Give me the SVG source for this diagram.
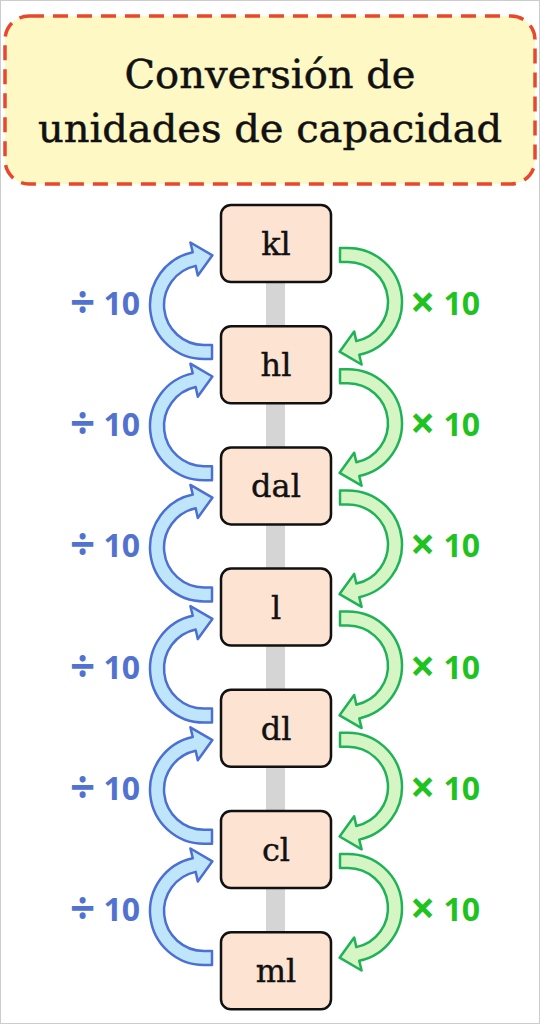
<svg xmlns="http://www.w3.org/2000/svg" xmlns:xlink="http://www.w3.org/1999/xlink" width="540" height="1024" viewBox="0 0 540 1024">
<style>
.frame{fill:#ffffff;stroke:#cccccc;stroke-width:1}
.title-box{fill:#fef8c4;stroke:#e8472e;stroke-width:3.5;stroke-dasharray:15 9}
.title{font-family:"DejaVu Serif","Liberation Serif",serif;font-size:40px;fill:#111;stroke:#111;stroke-width:0.5;text-anchor:middle}
.node rect{fill:#fde3d1;stroke:#111;stroke-width:2.5}
.node text{font-family:"DejaVu Serif","Liberation Serif",serif;font-size:32px;fill:#111;stroke:#111;stroke-width:0.4;text-anchor:middle}
.bar{fill:#d5d5d5}
.up{fill:#bfe5fb;stroke:#4b6fd3;stroke-width:2.5;stroke-linejoin:round}
.down{fill:#d5f6c4;stroke:#20b256;stroke-width:2.5;stroke-linejoin:round}
.lbl{font-family:"Open Sans","Noto Sans",sans-serif;font-weight:bold;font-size:32px}
.sym{font-size:44px}
.lup{fill:#5272d0;text-anchor:end}
.ldown{fill:#1fc31f;text-anchor:start}
</style>
<defs>
<path id="arr" d="M -64 55.5 L -72 55.5 A 54 54 0 0 1 -83.23 -51.32 L -85.6 -61 L -63.6 -48.2 L -78.2 -28 L -80.32 -37.62 A 40 40 0 0 0 -72 41.5 L -64 41.5 Z"/>
</defs>
<rect class="frame" x="0.5" y="0.5" width="539" height="1023"/>
<g id="title">
<rect class="title-box" x="5" y="16" width="530" height="168" rx="24"/>
<text class="title" x="270" y="88">Conversión de</text>
<text class="title" x="270" y="142">unidades de capacidad</text>
</g>
<rect class="bar" x="266" y="243" width="19" height="727"/>
<g id="connectors">
<use xlink:href="#arr" class="up" transform="translate(276,303.5)"/>
<use xlink:href="#arr" class="down" transform="translate(276,303.5) rotate(180)"/>
<text class="lbl lup" x="140" y="315"><tspan class="sym" dy="3">÷</tspan><tspan dy="-3"> 10</tspan></text>
<text class="lbl ldown" x="410" y="315"><tspan class="sym" dy="3">×</tspan><tspan dy="-3"> 10</tspan></text>
<use xlink:href="#arr" class="up" transform="translate(276,424.7)"/>
<use xlink:href="#arr" class="down" transform="translate(276,424.7) rotate(180)"/>
<text class="lbl lup" x="140" y="436.2"><tspan class="sym" dy="3">÷</tspan><tspan dy="-3"> 10</tspan></text>
<text class="lbl ldown" x="410" y="436.2"><tspan class="sym" dy="3">×</tspan><tspan dy="-3"> 10</tspan></text>
<use xlink:href="#arr" class="up" transform="translate(276,545.9)"/>
<use xlink:href="#arr" class="down" transform="translate(276,545.9) rotate(180)"/>
<text class="lbl lup" x="140" y="557.4"><tspan class="sym" dy="3">÷</tspan><tspan dy="-3"> 10</tspan></text>
<text class="lbl ldown" x="410" y="557.4"><tspan class="sym" dy="3">×</tspan><tspan dy="-3"> 10</tspan></text>
<use xlink:href="#arr" class="up" transform="translate(276,667.1)"/>
<use xlink:href="#arr" class="down" transform="translate(276,667.1) rotate(180)"/>
<text class="lbl lup" x="140" y="678.6"><tspan class="sym" dy="3">÷</tspan><tspan dy="-3"> 10</tspan></text>
<text class="lbl ldown" x="410" y="678.6"><tspan class="sym" dy="3">×</tspan><tspan dy="-3"> 10</tspan></text>
<use xlink:href="#arr" class="up" transform="translate(276,788.3)"/>
<use xlink:href="#arr" class="down" transform="translate(276,788.3) rotate(180)"/>
<text class="lbl lup" x="140" y="799.8"><tspan class="sym" dy="3">÷</tspan><tspan dy="-3"> 10</tspan></text>
<text class="lbl ldown" x="410" y="799.8"><tspan class="sym" dy="3">×</tspan><tspan dy="-3"> 10</tspan></text>
<use xlink:href="#arr" class="up" transform="translate(276,909.5)"/>
<use xlink:href="#arr" class="down" transform="translate(276,909.5) rotate(180)"/>
<text class="lbl lup" x="140" y="921"><tspan class="sym" dy="3">÷</tspan><tspan dy="-3"> 10</tspan></text>
<text class="lbl ldown" x="410" y="921"><tspan class="sym" dy="3">×</tspan><tspan dy="-3"> 10</tspan></text>
</g>
<g id="kl" class="node"><rect x="221" y="205" width="110" height="77" rx="10"/><text x="276" y="255">kl</text></g>
<g id="hl" class="node"><rect x="221" y="326.2" width="110" height="77" rx="10"/><text x="276" y="376.2">hl</text></g>
<g id="dal" class="node"><rect x="221" y="447.4" width="110" height="77" rx="10"/><text x="276" y="497.4">dal</text></g>
<g id="l" class="node"><rect x="221" y="568.6" width="110" height="77" rx="10"/><text x="276" y="618.6">l</text></g>
<g id="dl" class="node"><rect x="221" y="689.8" width="110" height="77" rx="10"/><text x="276" y="739.8">dl</text></g>
<g id="cl" class="node"><rect x="221" y="811" width="110" height="77" rx="10"/><text x="276" y="861">cl</text></g>
<g id="ml" class="node"><rect x="221" y="932.2" width="110" height="77" rx="10"/><text x="276" y="982.2">ml</text></g>
</svg>
